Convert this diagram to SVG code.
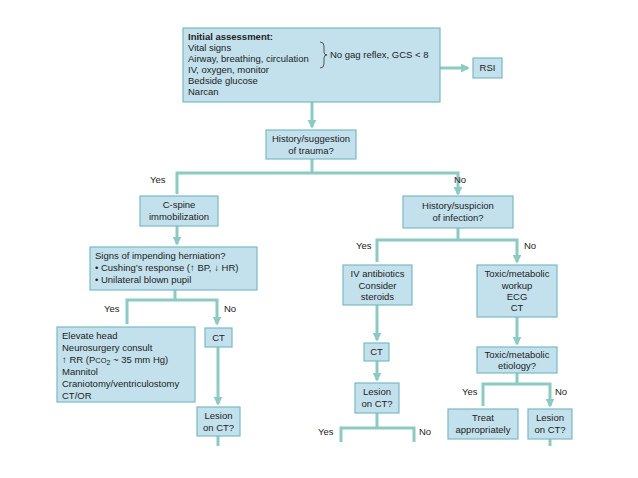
<svg xmlns="http://www.w3.org/2000/svg" width="638" height="478" viewBox="0 0 638 478">
<style>
.b{fill:#c2e1ec;stroke:#7ab9c6;stroke-width:1.2}
.t{font-family:"Liberation Sans",Arial,sans-serif;font-size:9.5px;fill:#222}
.c{text-anchor:middle}
.l{fill:none;stroke:#8ccac4;stroke-width:3}
</style>
<defs><marker id="a" viewBox="0 0 10 10" refX="8" refY="5" markerWidth="3" markerHeight="3" orient="auto"><path d="M0,0L10,5L0,10z" fill="#8ccac4"/></marker></defs>
<rect width="638" height="478" fill="#fff"/>
<g id="connectors">
<path class="l" d="M440,68H468" marker-end="url(#a)"/>
<path class="l" d="M312,102V127" marker-end="url(#a)"/>
<path class="l" d="M312,159V173M177,194V173H458V194" marker-end="url(#a)"/>
<path class="l" d="M177,226V244" marker-end="url(#a)"/>
<path class="l" d="M175,290V300M127,324V300H217V324" marker-end="url(#a)"/>
<path class="l" d="M218,347V404" marker-end="url(#a)"/>
<path class="l" d="M218,436V446"/>
<path class="l" d="M458,228V240M377,262V240H517V262" marker-end="url(#a)"/>
<path class="l" d="M377,305V340" marker-end="url(#a)"/>
<path class="l" d="M377,361V380" marker-end="url(#a)"/>
<path class="l" d="M377,413V428M341,442V428H414V442"/>
<path class="l" d="M517,317V344" marker-end="url(#a)"/>
<path class="l" d="M517,373V384M483,406V384H550V406" marker-end="url(#a)"/>
<path class="l" d="M550,439V446"/>
</g>
<g id="initial"><rect class="b" x="183" y="28" width="257" height="74"/>
<text class="t" x="188" y="40" font-weight="bold">Initial assessment:</text>
<text class="t" x="188" y="51">Vital signs</text>
<text class="t" x="188" y="62">Airway, breathing, circulation</text>
<text class="t" x="188" y="73">IV, oxygen, monitor</text>
<text class="t" x="188" y="84">Bedside glucose</text>
<text class="t" x="188" y="95">Narcan</text>
<path d="M320,42q4,0 4,4v6q0,3 3,3q-3,0 -3,3v6q0,4 -4,4" fill="none" stroke="#333" stroke-width="0.8"/>
<text class="t" x="330" y="58">No gag reflex, GCS &lt; 8</text></g>
<g id="rsi"><rect class="b" x="473" y="58" width="29" height="20"/><text class="t c" x="487.5" y="71">RSI</text></g>
<g id="trauma"><rect class="b" x="266" y="130" width="90" height="29"/><text class="t c" x="311" y="142">History/suggestion</text><text class="t c" x="311" y="154">of trauma?</text></g>
<text class="t" x="150" y="183">Yes</text><text class="t" x="454" y="183">No</text>
<g id="cspine"><rect class="b" x="140" y="196" width="78" height="30"/><text class="t c" x="179" y="208">C-spine</text><text class="t c" x="179" y="220">immobilization</text></g>
<g id="herniation"><rect class="b" x="90" y="247" width="167" height="43"/>
<text class="t" x="95" y="259">Signs of impending herniation?</text>
<text class="t" x="95" y="271">• Cushing’s response (↑ BP, ↓ HR)</text>
<text class="t" x="95" y="283">• Unilateral blown pupil</text></g>
<text class="t" x="104" y="312">Yes</text><text class="t" x="224" y="312">No</text>
<g id="elevate"><rect class="b" x="57" y="327" width="138" height="75"/>
<text class="t" x="62" y="339">Elevate head</text>
<text class="t" x="62" y="351">Neurosurgery consult</text>
<text class="t" x="62" y="363">↑ RR (P<tspan font-size="7.5">CO</tspan><tspan font-size="7" dy="2">2</tspan><tspan dy="-2"> ~ 35 mm Hg)</tspan></text>
<text class="t" x="62" y="375">Mannitol</text>
<text class="t" x="62" y="387">Craniotomy/ventriculostomy</text>
<text class="t" x="62" y="399">CT/OR</text></g>
<g id="ct1"><rect class="b" x="205" y="328" width="27" height="19"/><text class="t c" x="218.5" y="341">CT</text></g>
<g id="lesion1"><rect class="b" x="197" y="407" width="43" height="29"/><text class="t c" x="218.5" y="419">Lesion</text><text class="t c" x="218.5" y="431">on CT?</text></g>
<g id="infection"><rect class="b" x="403" y="196" width="110" height="32"/><text class="t c" x="458" y="209">History/suspicion</text><text class="t c" x="458" y="221">of infection?</text></g>
<text class="t" x="356" y="249">Yes</text><text class="t" x="524" y="249">No</text>
<g id="abx"><rect class="b" x="343" y="265" width="69" height="40"/><text class="t c" x="377.5" y="277">IV antibiotics</text><text class="t c" x="377.5" y="289">Consider</text><text class="t c" x="377.5" y="300">steroids</text></g>
<g id="toxic"><rect class="b" x="477" y="265" width="80" height="52"/><text class="t c" x="517" y="277">Toxic/metabolic</text><text class="t c" x="517" y="289">workup</text><text class="t c" x="517" y="300">ECG</text><text class="t c" x="517" y="311">CT</text></g>
<g id="ct2"><rect class="b" x="364" y="343" width="25" height="18"/><text class="t c" x="376.5" y="355">CT</text></g>
<g id="lesion2"><rect class="b" x="355" y="383" width="44" height="30"/><text class="t c" x="377" y="395">Lesion</text><text class="t c" x="377" y="407">on CT?</text></g>
<text class="t" x="318" y="435">Yes</text><text class="t" x="419" y="435">No</text>
<g id="etiology"><rect class="b" x="477" y="347" width="80" height="26"/><text class="t c" x="517" y="358">Toxic/metabolic</text><text class="t c" x="517" y="369">etiology?</text></g>
<text class="t" x="462" y="395">Yes</text><text class="t" x="555" y="395">No</text>
<g id="treat"><rect class="b" x="448" y="409" width="70" height="30"/><text class="t c" x="483" y="421">Treat</text><text class="t c" x="483" y="433">appropriately</text></g>
<g id="lesion3"><rect class="b" x="528" y="409" width="44" height="30"/><text class="t c" x="550" y="421">Lesion</text><text class="t c" x="550" y="433">on CT?</text></g>
</svg>
